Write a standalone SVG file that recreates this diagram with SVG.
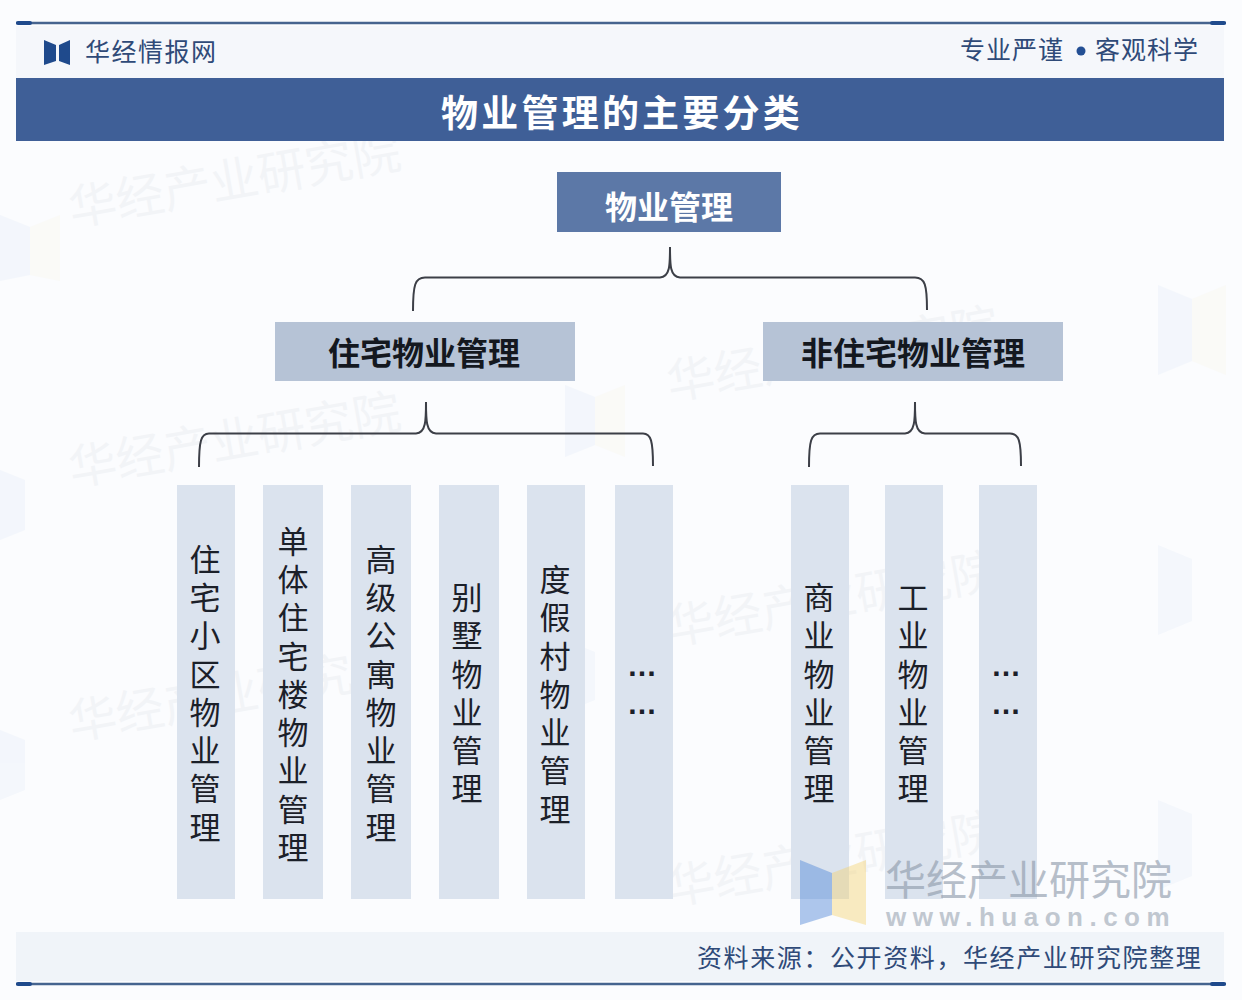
<svg xmlns="http://www.w3.org/2000/svg" width="1242" height="1000" viewBox="0 0 1242 1000">
<style>
text{font-family:"Noto Sans CJK SC","Noto Sans",sans-serif}
.col{fill:#dbe3ee}
.vt{font-size:31px;fill:#1b2029;text-anchor:middle}
.dots{font-family:"Liberation Sans",sans-serif;font-size:30px;font-weight:700;fill:#1b2029;text-anchor:middle}
.l2{fill:#b6c3d6}
.n2{font-size:32px;font-weight:700;fill:#14181f;text-anchor:middle}
.hd{font-size:25px;fill:#2f4a78}
.wm{font-size:48px;fill:#8a97a8;opacity:.07}
.brace{fill:none;stroke:#3c3f47;stroke-width:2}
.cap{fill:#1f4a8c}
.rule{stroke:#46648f;stroke-width:2.5}
.lgb{fill:#4d86d6}
.lgy{fill:#f4cf63}
</style>
<rect width="1242" height="1000" fill="#fbfcfe"/>
<rect x="16" y="26" width="1208" height="52" fill="#f5f7fb"/>
<rect x="16" y="932" width="1208" height="49" fill="#f0f4f9"/>
<g id="watermarks">
<g opacity=".04"><path class="lgb" d="M0 215l30 12v48l-30 6z"/><path class="lgb" d="M565 385l30 12v48l-30 12z"/><path class="lgb" d="M1158 285l34 14v62l-34 14z"/><path class="lgb" d="M1158 545l34 14v62l-34 14z"/><path class="lgb" d="M1158 800l34 14v62l-34 14z"/><path class="lgb" d="M0 470l25 10v50l-25 10z"/><path class="lgb" d="M0 730l25 10v50l-25 10z"/><path class="lgb" d="M565 640l30 12v48l-30 12z"/><path class="lgy" d="M30 227l30-12v66l-30-6z"/><path class="lgy" d="M595 397l30-12v72l-30-12z"/><path class="lgy" d="M1192 299l34-14v90l-34-14z"/></g>
<text class="wm" x="72" y="226" transform="rotate(-10 72 226)">华经产业研究院</text>
<text class="wm" x="72" y="486" transform="rotate(-10 72 486)">华经产业研究院</text>
<text class="wm" x="72" y="740" transform="rotate(-10 72 740)">华经产业研究院</text>
<text class="wm" x="670" y="400" transform="rotate(-10 670 400)">华经产业研究院</text>
<text class="wm" x="670" y="645" transform="rotate(-10 670 645)">华经产业研究院</text>
<text class="wm" x="670" y="905" transform="rotate(-10 670 905)">华经产业研究院</text>
</g>
<g id="header">
<line class="rule" x1="16" y1="23" x2="1226" y2="23"/>
<rect class="cap" x="16" y="21" width="16" height="4" rx="2"/>
<rect class="cap" x="1210" y="21" width="16" height="4" rx="2"/>
<path d="M44 40l12 5v16l-12 4z" fill="#1f4a8c"/><path d="M70 40l-11 5v16l11 4z" fill="#1f4a8c"/>
<text class="hd" x="85" y="61" letter-spacing="1.5">华经情报网</text>
<text class="hd" x="960" y="59" letter-spacing="1">专业严谨</text>
<circle cx="1081" cy="51" r="4.5" fill="#234f94"/>
<text class="hd" x="1095" y="59" letter-spacing="1">客观科学</text>
</g>
<g id="title">
<rect x="16" y="78" width="1208" height="63" fill="#3f5f97"/>
<text x="622" y="127" font-size="37" font-weight="700" fill="#fff" text-anchor="middle" letter-spacing="3.2">物业管理的主要分类</text>
</g>
<g id="connectors">
<path class="brace" d="M670 247C670 265 670 277 660 277.500L425 277.500C415 277.500 413 285 413 311"/>
<path class="brace" d="M670 247C670 265 670 277 680 277.500L915 277.500C925 277.500 927 285 927 310"/>
<path class="brace" d="M426 402C426 420 426 433 416 433.500L209 433.500C201 433.500 199 441 199 467"/>
<path class="brace" d="M426 402C426 420 426 433 436 433.500L643 433.500C651 433.500 653 441 653 466"/>
<path class="brace" d="M915 402C915 420 915 433 905 433.500L820 433.500C811 433.500 809 441 809 467"/>
<path class="brace" d="M915 402C915 420 915 433 925 433.500L1010 433.500C1019 433.500 1021 441 1021 466"/>
</g>
<g id="node-root">
<rect x="557" y="172" width="224" height="60" fill="#5c78a7"/>
<text x="669" y="219" font-size="32" font-weight="700" fill="#fff" text-anchor="middle">物业管理</text>
</g>
<g id="node-residential">
<rect class="l2" x="275" y="322" width="300" height="59"/>
<text class="n2" x="424" y="365">住宅物业管理</text>
</g>
<g id="node-nonresidential">
<rect class="l2" x="763" y="322" width="300" height="59"/>
<text class="n2" x="913" y="365">非住宅物业管理</text>
</g>
<g id="node-a1"><rect class="col" x="177" y="485" width="58" height="414"/>
<text class="vt" x="205 205 205 205 205 205 205 205" y="571 609 647 686 724 762 800 839">住宅小区物业管理</text></g>
<g id="node-a2"><rect class="col" x="263" y="485" width="60" height="414"/>
<text class="vt" x="293 293 293 293 293 293 293 293 293" y="553 591 629 668 706 744 782 821 859">单体住宅楼物业管理</text></g>
<g id="node-a3"><rect class="col" x="351" y="485" width="60" height="414"/>
<text class="vt" x="381 381 381 381 381 381 381 381" y="571 609 647 686 724 762 800 839">高级公寓物业管理</text></g>
<g id="node-a4"><rect class="col" x="439" y="485" width="60" height="414"/>
<text class="vt" x="467 467 467 467 467 467" y="609 647 686 724 762 800">别墅物业管理</text></g>
<g id="node-a5"><rect class="col" x="527" y="485" width="58" height="414"/>
<text class="vt" x="555 555 555 555 555 555 555" y="591 629 668 706 744 782 821">度假村物业管理</text></g>
<g id="node-a6"><rect class="col" x="615" y="485" width="58" height="414"/>
<text class="dots" x="642" y="676">…</text><text class="dots" x="642" y="714">…</text></g>
<g id="node-b1"><rect class="col" x="791" y="485" width="58" height="414"/>
<text class="vt" x="819 819 819 819 819 819" y="609 647 686 724 762 800">商业物业管理</text></g>
<g id="node-b2"><rect class="col" x="885" y="485" width="58" height="414"/>
<text class="vt" x="913 913 913 913 913 913" y="609 647 686 724 762 800">工业物业管理</text></g>
<g id="node-b3"><rect class="col" x="979" y="485" width="58" height="414"/>
<text class="dots" x="1006" y="676">…</text><text class="dots" x="1006" y="714">…</text></g>
<g id="watermark-main">
<path class="lgb" opacity=".45" d="M800 860l32 13v42l-32 10z"/>
<path class="lgy" opacity=".4" d="M832 873l34-13v65l-34-10z"/>
<text x="885" y="895" font-size="41" fill="#8d99aa" opacity=".62">华经产业研究院</text>
<text x="886" y="926" style="font-family:'Liberation Sans',sans-serif" font-size="26" font-weight="700" fill="#9aa4b2" opacity=".6" letter-spacing="6.500">www.huaon.com</text>
</g>
<g id="footer">
<text class="hd" x="697" y="967" letter-spacing="1.600">资料来源：公开资料，华经产业研究院整理</text>
<line class="rule" x1="16" y1="984" x2="1226" y2="984"/>
<rect class="cap" x="16" y="982" width="16" height="4" rx="2"/>
<rect class="cap" x="1210" y="982" width="16" height="4" rx="2"/>
</g>
</svg>
